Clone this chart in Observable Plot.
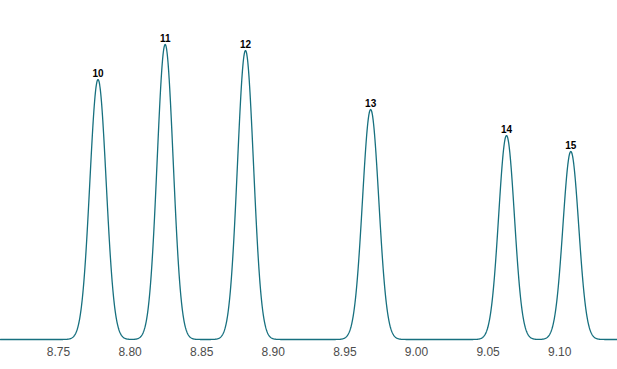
<!DOCTYPE html>
<html>
<head>
<meta charset="utf-8">
<script src="https://cdn.jsdelivr.net/npm/d3@7"></script>
<script src="https://cdn.jsdelivr.net/npm/@observablehq/plot@0.6"></script>
<style>
  html, body { margin: 0; padding: 0; background: #fff; }
  #chart svg { display: block; }
</style>
</head>
<body>
<div id="chart"></div>
<script>
// Peak labels, retention times, heights and widths
const peakLabels = ["10", "11", "12", "13", "14", "15"];
const peakTimes = [8.7776, 8.8245, 8.8806, 8.9680, 9.0629, 9.1078];
const peakHeights = [260, 295, 289, 230, 204, 188];
const peakWidths = [0.0057, 0.0056, 0.0056, 0.0057, 0.0055, 0.0055];
const xTicks = [8.75, 8.80, 8.85, 8.90, 8.95, 9.00, 9.05, 9.10];
const xDomain = [8.7095, 9.1404];

// Chromatogram trace: sum of the peaks over the time range
const trace = d3.range(xDomain[0], xDomain[1] + 0.00025, 0.00025).map(t => ({
  t,
  v: d3.sum(peakTimes, (c, i) => peakHeights[i] * Math.exp(-0.5 * ((t - c) / peakWidths[i]) ** 2))
}));
const peaks = peakLabels.map((label, i) => ({label, t: peakTimes[i], v: peakHeights[i]}));

const chart = Plot.plot({
  width: 617,
  height: 369,
  marginLeft: 0,
  marginRight: 0,
  marginTop: 39,
  marginBottom: 30,
  style: {fontFamily: "'Liberation Sans', Arial, sans-serif", background: "#fff"},
  x: {domain: xDomain, ticks: xTicks, tickFormat: d3.format(".2f"), label: null},
  y: {domain: [0, 300], axis: null},
  marks: [
    Plot.axisX({ticks: xTicks, tickFormat: d3.format(".2f"), tickSize: 0, tickPadding: 8, fontSize: 12, fill: "#4d4d4d", label: null}),
    Plot.line(trace, {x: "t", y: "v", stroke: "#17707f", strokeWidth: 1.3}),
    Plot.text(peaks, {x: "t", y: "v", text: "label", lineAnchor: "bottom", dy: -3, fontSize: 10, fontWeight: "bold", fill: "#000"})
  ]
});
document.getElementById("chart").appendChild(chart);
</script>
</body>
</html>
